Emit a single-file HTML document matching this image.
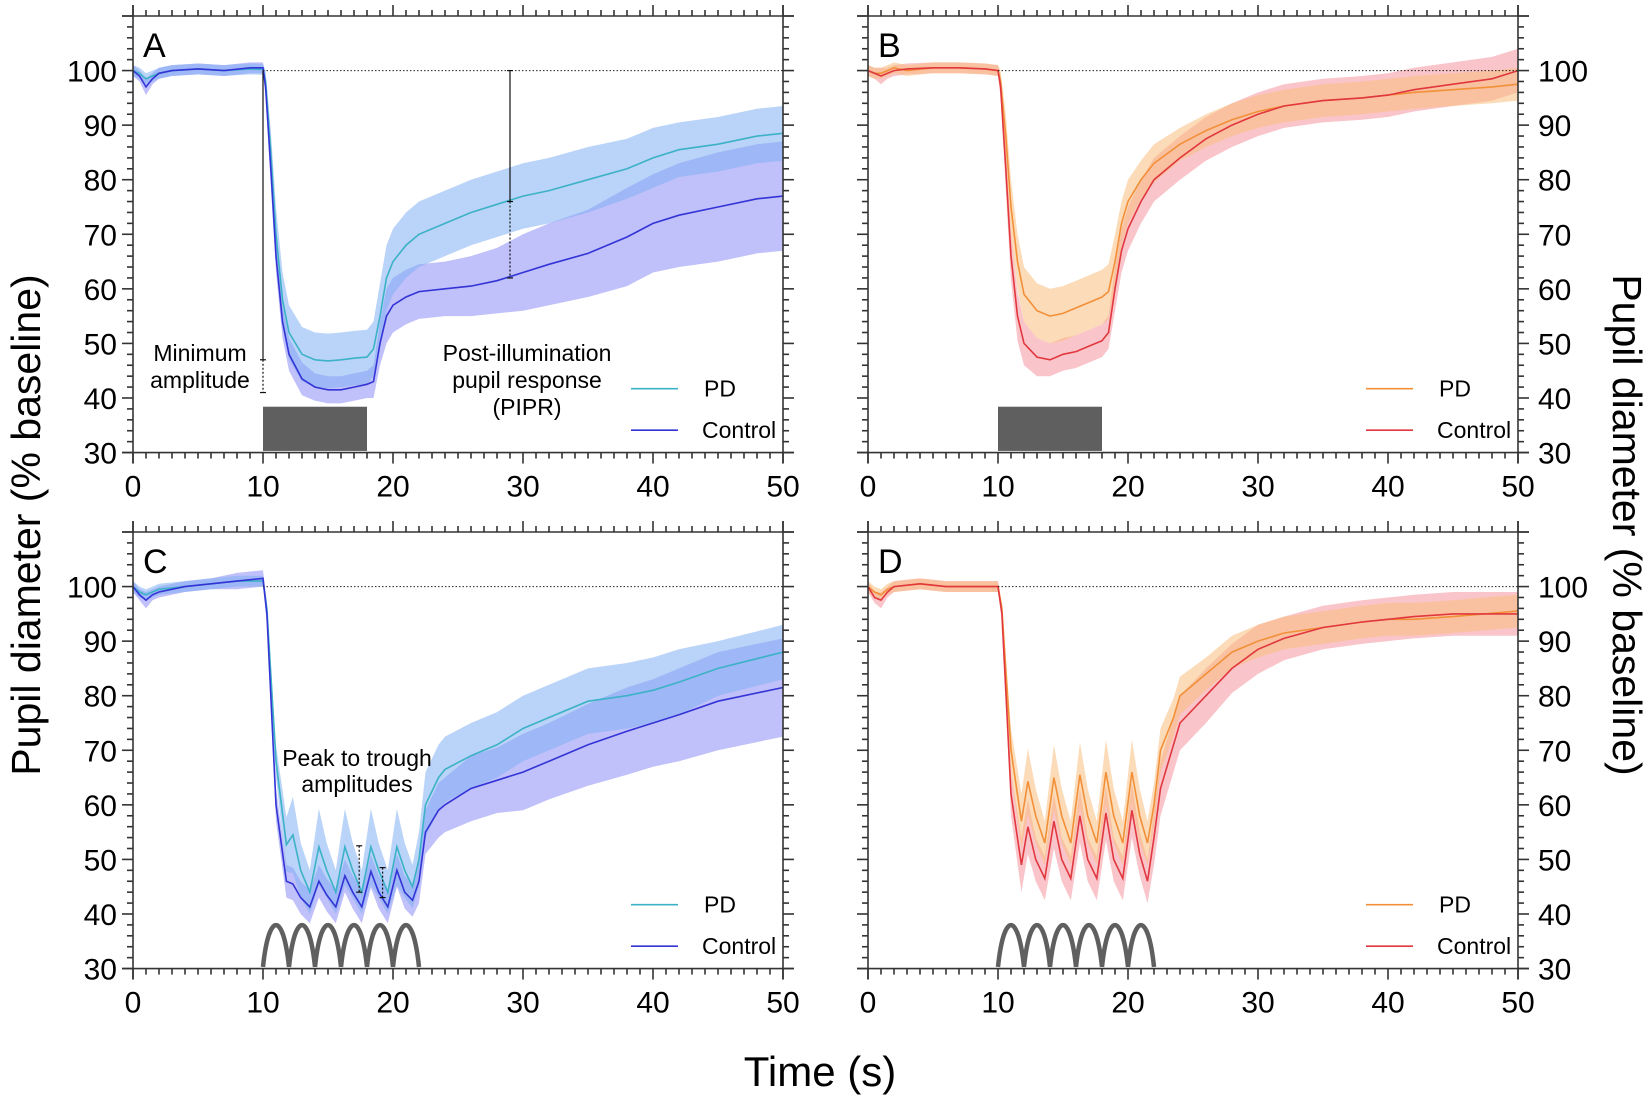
<!DOCTYPE html>
<html><head><meta charset="utf-8">
<style>
html,body{margin:0;padding:0;background:#fff;}
svg{display:block;font-family:"Liberation Sans",Arial,sans-serif;}
</style></head>
<body>
<svg id="fig" width="1650" height="1100" viewBox="0 0 1650 1100" xmlns="http://www.w3.org/2000/svg">
<rect width="1650" height="1100" fill="#fff"/>
<text x="40" y="525" font-size="41" text-anchor="middle" transform="rotate(-90 40 525)">Pupil diameter (% baseline)</text>
<text x="1613" y="525" font-size="41" text-anchor="middle" transform="rotate(90 1613 525)">Pupil diameter (% baseline)</text>
<text x="820" y="1086" font-size="42" text-anchor="middle">Time (s)</text>
</svg>
<script>
// ---- data ----
const timesAB = [0,0.5,1,1.5,2,3,5,7,9,10,10.2,10.6,11,11.5,12,13,14,15,16,17,18,18.5,19,19.5,20,21,22,24,26,28,30,32,35,38,40,42,45,48,50];
const aPD = [100,99.5,98.5,99,99.5,100,100.3,100,100.3,100.2,98,85,70,58,52,48,47,46.8,47,47.3,47.5,49,55,62,65,68,70,72,74,75.5,77,78,80,82,84,85.5,86.5,88,88.5];
const aPDsd = [1,1,1,1,1,1,1,1,1,1,2,4,5,5,5,5,5,5,5,5,5,5,6,6,6,6,6,6,6,6,6,6,6,5.5,5.5,5,5,5,5];
const aCtrl = [100,99,97,98.5,99.5,100,100.3,100,100.5,100.5,97,82,66,54,48,43.5,42,41.5,41.5,42,42.5,43,50,55,57,58.5,59.5,60,60.5,61.5,63,64.5,66.5,69.5,72,73.5,75,76.5,77];
const aCtrlsd = [1,1,1.5,1,1,1,1,1,1,1,2,3,3,3,3,3,2.5,2.5,2.5,2.5,2.5,3,4,5,5,5,5,5,5.5,6,7,7.5,8,9,9,9.5,10,10,10];
const bPD = [100,99.5,99.5,100,100.5,100,100.5,100.5,100.3,100,98,88,75,65,59,56,55,55.5,56.5,57.5,58.5,59.5,65,72,76,80,83,86.5,89,91,92.5,93.5,94.5,95,95.5,96,96.5,97,97.5];
const bPDsd = [1,1,1,1,1,1,1,1,1,1,2,4,5,5,5,5,5,5,5,5,5,5,5,4,4,3.5,3.5,3,3,3,3,3,3,3,3,3,3,3,3];
const bCtrl = [100,99.5,99,99.5,100,100.3,100.5,100.5,100.3,100,97,82,66,55,50,47.5,47,48,48.5,49.5,50.5,52,60,67,71,76,80,84,87.5,90,92,93.5,94.5,95,95.5,96.5,97.5,98.5,100];
const bCtrlsd = [1,1,1.5,1,1,1,1,1,1,1,2,4,4.5,4.5,4,3.5,3,3,3,3,3,3,4,4,4,4,4,4,4,4,4,4,4,4,4,4,4,4,4];

const timesCD = [0,0.5,1,1.5,2,4,6,8,10,10.3,11,11.8,12.3,12.9,13.6,14.3,14.9,15.6,16.3,16.9,17.6,18.3,18.9,19.6,20.3,20.9,21.5,22,22.5,23.5,24,26,28,30,32,35,38,40,42,45,50];
const cPD = [100,99,98.5,99,99.5,100,100.5,101,101,96,68,52.7,54.5,48,44,52.3,48,44,52.3,48,44,52.3,48,44,52.3,48,45,50,60,65,66.5,69,71,74,76,79,80,81,82.5,85,88];
const cPDsd = [1,1,1,1,1,1,1,1,1,1,3,5,7,5,4,7,5,4,7,5,4,7,5,4,7,5,4,5,6,6,6,6,6,6,6,6,6,6,6,5,5];
const cCtrl = [100,98.5,97.5,98.5,99,100,100.5,101,101.5,95,60,46,45.5,43,41.3,46,43.5,41.3,47,44,41.3,47.8,44,41.3,48,44,42.5,46,55,59,60,63,64.5,66,68,71,73.5,75,76.5,79,81.5];
const cCtrlsd = [1,1,1.5,1,1,1,1,1.5,1.5,2,3,3,3,3,3,3,3,3,3,3,3,3,3,3,3,3,3,4,4,5,5,6,6,7,7,7.5,8,8,8.5,9,9];
const dPD = [100,99,98.5,99.5,100,100.5,100,100,100,96,70,57,64.3,58,53,65,58,53,65.5,58,53,66,58,53,66,58,53,60,70,76,80,84,88,90,91.5,92.5,93.5,94,94,94.5,95.5];
const dPDsd = [1,1,1,1,1,1,1,1,1,1,4,5,6,5,4,6,5,4,6,5,4,6,5,4,6,5,4,4,4,3.5,3.5,3,3,3,3,3,3,3,3,3,3];
const dCtrl = [100,98,97.5,99,100,100.5,100,100,100,95,62,49,56,50,46.5,57,50,46.5,58,50,46.5,58.5,50,46.5,59,51,46,54,63,71,75,80,85,88.5,90.5,92.5,93.5,94,94.5,95,95];
const dCtrlsd = [1,1,1.5,1,1,1,1,1,1,1,4,5,5,4,4,5,4,4,5,4,4,5,4,4,5,4,4,5,5,5,5,5,4.5,4.5,4,4,4,4,4,4,4];

const xTicks = [0,10,20,30,40,50];
const yTicks = [30,40,50,60,70,80,90,100];
const stimBlock = [10,18];
const stimArches = [11,13,15,17,19,21];

// ---- drawing ----
const svg = document.getElementById('fig');
const NS = 'http://www.w3.org/2000/svg';
function mk(tag, attrs, parent){ const e=document.createElementNS(NS,tag); for(const k in attrs) e.setAttribute(k,attrs[k]); (parent||svg).appendChild(e); return e; }

const panels = [
 {id:'a', letter:'A', x0:133, yTop:16, right:false, times:timesAB, pd:aPD, pdsd:aPDsd, ct:aCtrl, ctsd:aCtrlsd, blue:true, stim:'block'},
 {id:'b', letter:'B', x0:868, yTop:16, right:true, times:timesAB, pd:bPD, pdsd:bPDsd, ct:bCtrl, ctsd:bCtrlsd, blue:false, stim:'block'},
 {id:'c', letter:'C', x0:133, yTop:532, right:false, times:timesCD, pd:cPD, pdsd:cPDsd, ct:cCtrl, ctsd:cCtrlsd, blue:true, stim:'arch'},
 {id:'d', letter:'D', x0:868, yTop:532, right:true, times:timesCD, pd:dPD, pdsd:dPDsd, ct:dCtrl, ctsd:dCtrlsd, blue:false, stim:'arch'}
];
const XS = 13, YS = 5.457;

panels.forEach(p=>{
  const g = mk('g',{});
  
  
  const X = t => p.x0 + t*XS;
  const Y = v => p.yTop + (110 - v)*YS;
  const xR = X(50), yB = Y(30);
  const colPD = p.blue ? '#3cb2c6' : '#f2903a';
  const colCt = p.blue ? '#3434d6' : '#e0383e';
  const bandPD = p.blue ? 'rgba(130,175,242,0.55)' : 'rgba(250,190,125,0.55)';
  const bandCt = p.blue ? 'rgba(130,130,245,0.5)' : 'rgba(246,140,150,0.5)';

  function band(vals, sd, fill, name){
    let d='';
    p.times.forEach((t,i)=>{ d += (i?'L':'M')+X(t).toFixed(1)+','+Y(vals[i]+sd[i]).toFixed(1); });
    for(let i=p.times.length-1;i>=0;i--) d += 'L'+X(p.times[i]).toFixed(1)+','+Y(vals[i]-sd[i]).toFixed(1);
    const e = mk('path',{d:d+'Z',fill:fill,stroke:'none'},g);
    
    
  }
  function line(vals, col, name){
    let d='';
    p.times.forEach((t,i)=>{ d += (i?'L':'M')+X(t).toFixed(1)+','+Y(vals[i]).toFixed(1); });
    const e = mk('path',{d:d,fill:'none',stroke:col,'stroke-width':1.6},g);
    
    
  }
  band(p.ct,p.ctsd,bandCt,'control-band');
  band(p.pd,p.pdsd,bandPD,'pd-band');
  line(p.pd,colPD,'pd-line');
  line(p.ct,colCt,'control-line');

  const bl = mk('line',{x1:X(10),x2:xR,y1:Y(100),y2:Y(100),stroke:'#222','stroke-width':1,'stroke-dasharray':'1.5,2'},g);
  
  

  if(p.stim==='block'){
    const r = mk('rect',{x:X(stimBlock[0]),y:Y(38.4),width:X(stimBlock[1])-X(stimBlock[0]),height:Y(30.3)-Y(38.4),fill:'#5f5f5f'},g);
    
    
  } else {
    let d='';
    stimArches.forEach(c=>{ d += 'M'+X(c-1)+','+Y(30.3)+' C'+X(c-0.55)+','+Y(40.5)+' '+X(c+0.55)+','+Y(40.5)+' '+X(c+1)+','+Y(30.3)+' '; });
    const a = mk('path',{d:d,fill:'none',stroke:'#5f5f5f','stroke-width':4.5},g);
    
    
  }

  const ax = mk('g',{stroke:'#333','stroke-width':1.6},g);
  
  
  mk('line',{x1:p.x0-11,x2:xR+11,y1:p.yTop,y2:p.yTop},ax);
  mk('line',{x1:p.x0-11,x2:xR+11,y1:yB,y2:yB},ax);
  mk('line',{x1:p.x0,x2:p.x0,y1:p.yTop-11,y2:yB+11},ax);
  mk('line',{x1:xR,x2:xR,y1:p.yTop-11,y2:yB+11},ax);
  for(let t=0;t<=50;t++){
    const L = t%10===0 ? 11 : 6;
    mk('line',{x1:X(t),x2:X(t),y1:yB,y2:yB+L},ax);
    mk('line',{x1:X(t),x2:X(t),y1:p.yTop,y2:p.yTop-L},ax);
  }
  for(let v=30;v<=110;v+=2){
    const L = v%10===0 ? 11 : 6;
    mk('line',{x1:p.x0,x2:p.x0-L,y1:Y(v),y2:Y(v)},ax);
    mk('line',{x1:xR,x2:xR+L,y1:Y(v),y2:Y(v)},ax);
  }
  xTicks.forEach(t=>{
    const e = mk('text',{x:X(t),y:yB+44,'font-size':30,'text-anchor':'middle'},g);
    e.textContent = t;
    
    
  });
  yTicks.forEach(v=>{
    const e = mk('text',{x:p.right? xR+20 : p.x0-16,y:Y(v)+11,'font-size':30,'text-anchor':p.right?'start':'end'},g);
    e.textContent = v;
    
    
  });
  const lt = mk('text',{x:p.x0+10,y:p.yTop+41,'font-size':34},g);
  lt.textContent = p.letter;
  
  

  const lg = mk('g',{},g);
  
  
  const lx = p.x0 + 498, ly1 = Y(41.7), ly2 = Y(34.1);
  mk('line',{x1:lx,x2:lx+47,y1:ly1,y2:ly1,stroke:colPD,'stroke-width':1.6},lg);
  mk('line',{x1:lx,x2:lx+47,y1:ly2,y2:ly2,stroke:colCt,'stroke-width':1.6},lg);
  const t1 = mk('text',{x:lx+73,y:ly1+8,'font-size':23},lg); t1.textContent='PD';
  
  
  const t2 = mk('text',{x:lx+71,y:ly2+8,'font-size':23},lg); t2.textContent='Control';
  
  

  if(p.id==='a'){
    const an = mk('g',{stroke:'#111','stroke-width':1.2},g);
    
    
    mk('line',{x1:X(10),x2:X(10),y1:Y(100),y2:Y(47)},an);
    mk('line',{x1:X(10),x2:X(10),y1:Y(47),y2:Y(41),'stroke-dasharray':'2,2'},an);
    mk('line',{x1:X(10)-3,x2:X(10)+3,y1:Y(47),y2:Y(47)},an);
    mk('line',{x1:X(10)-3,x2:X(10)+3,y1:Y(41),y2:Y(41)},an);
    mk('line',{x1:X(29),x2:X(29),y1:Y(100),y2:Y(76)},an);
    mk('line',{x1:X(29),x2:X(29),y1:Y(76),y2:Y(62),'stroke-dasharray':'2,2'},an);
    [100,76,62].forEach(v=>mk('line',{x1:X(29)-3,x2:X(29)+3,y1:Y(v),y2:Y(v)},an));
    [['Minimum',361],['amplitude',388]].forEach(a=>{const e=mk('text',{x:200,y:a[1],'font-size':23,'text-anchor':'middle'},g);e.textContent=a[0];
      
      });
    [['Post-illumination',361],['pupil response',388],['(PIPR)',415]].forEach(a=>{const e=mk('text',{x:527,y:a[1],'font-size':23,'text-anchor':'middle'},g);e.textContent=a[0];
      
      });
  }
  if(p.id==='c'){
    const an = mk('g',{stroke:'#111','stroke-width':1.2,'stroke-dasharray':'2,2'},g);
    
    
    mk('line',{x1:X(17.4),x2:X(17.4),y1:Y(52.5),y2:Y(44)},an);
    mk('line',{x1:X(19.2),x2:X(19.2),y1:Y(48.5),y2:Y(43)},an);
    [[17.4,52.5],[17.4,44],[19.2,48.5],[19.2,43]].forEach(q=>mk('line',{x1:X(q[0])-3,x2:X(q[0])+3,y1:Y(q[1]),y2:Y(q[1]),'stroke-dasharray':'none'},an));
    [['Peak to trough',766],['amplitudes',792]].forEach(a=>{const e=mk('text',{x:357,y:a[1],'font-size':23,'text-anchor':'middle'},g);e.textContent=a[0];
      
      });
  }
});
</script>
</body></html>
